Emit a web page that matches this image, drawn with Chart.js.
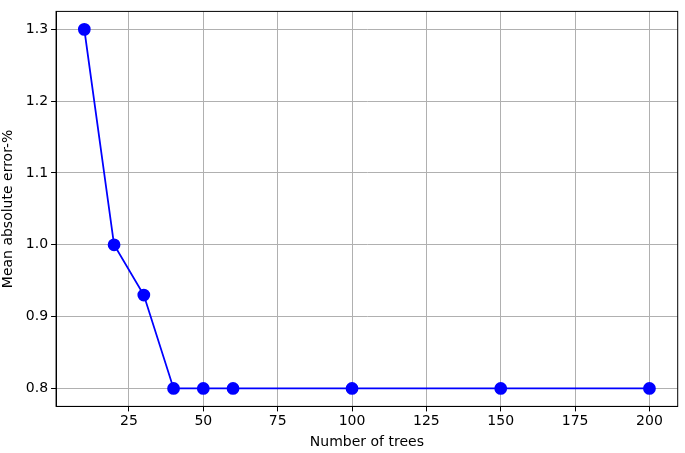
<!DOCTYPE html>
<html><head><style>html,body{margin:0;padding:0;background:#fff}#w{width:685px;height:453px}</style>
<script src="https://cdn.jsdelivr.net/npm/chart.js"></script></head>
<body><div id="w"><canvas id="c"></canvas></div>
<script>
const trees = [10, 20, 30, 40, 50, 60, 100, 150, 200];
const errors = [1.3, 1.0, 0.93, 0.8, 0.8, 0.8, 0.8, 0.8, 0.8];
const xTicks = [25, 50, 75, 100, 125, 150, 175, 200];
const yTicks = [0.8, 0.9, 1.0, 1.1, 1.2, 1.3];
const font = {family: 'DejaVu Sans', size: 14};
new Chart(document.getElementById('c'), {
  type: 'scatter',
  data: {datasets: [{data: trees.map((t, i) => ({x: t, y: errors[i]})), showLine: true,
    borderColor: '#0000ff', backgroundColor: '#0000ff', borderWidth: 1.8, pointRadius: 5.5, pointHoverRadius: 5.5}]},
  options: {
    responsive: true, maintainAspectRatio: false, animation: false,
    layout: {padding: {top: -4, right: 3, left: 0, bottom: 2}},
    plugins: {legend: {display: false}, tooltip: {enabled: false}},
    scales: {
      x: {type: 'linear', min: 0.5, max: 209.5,
        afterBuildTicks: s => { s.ticks = xTicks.map(v => ({value: v})); },
        ticks: {font, color: '#000', maxRotation: 0, padding: 2},
        grid: {color: '#b0b0b0', tickColor: '#000', tickLength: 5},
        border: {color: '#000', display: true},
        title: {display: true, text: 'Number of trees', font, color: '#000', padding: {top: 2, bottom: 0}}},
      y: {min: 0.775, max: 1.325,
        afterBuildTicks: s => { s.ticks = yTicks.map(v => ({value: v})); },
        ticks: {font, color: '#000', padding: 3, callback: v => v.toFixed(1)},
        grid: {color: '#b0b0b0', tickColor: '#000', tickLength: 5},
        border: {color: '#000'},
        title: {display: true, text: 'Mean absolute error-%', font, color: '#000', padding: {top: 0, bottom: 6}}}
    }
  },
  plugins: [{id: 'box', afterDraw(c) {const a = c.chartArea, x = c.ctx; x.save(); x.strokeStyle = '#000'; x.lineWidth = 1; x.strokeRect(a.left, a.top, a.right - a.left, a.bottom - a.top); x.restore();}}]
});
</script></body></html>
